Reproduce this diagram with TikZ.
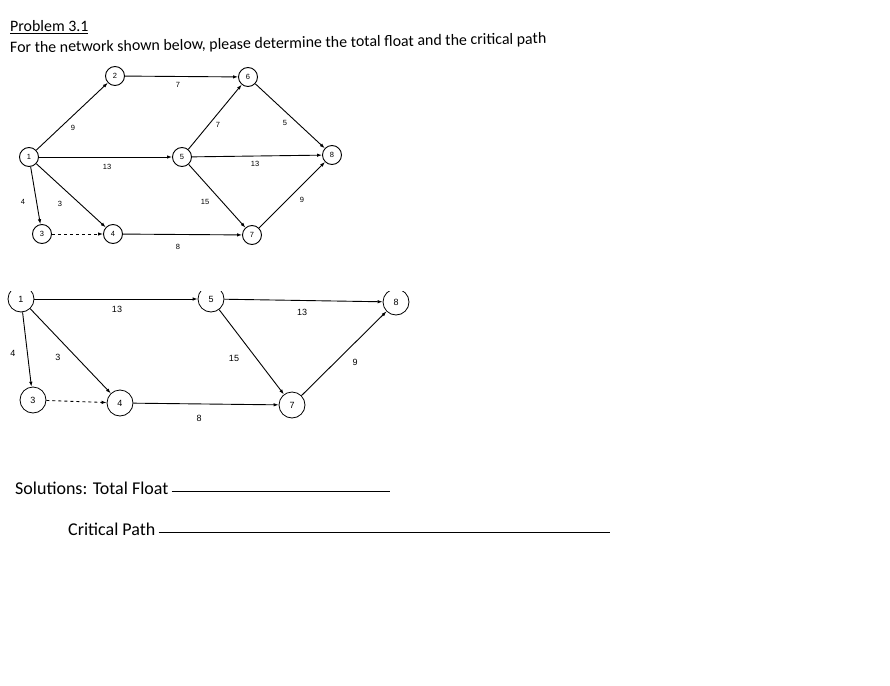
\documentclass[tikz,border=0pt]{standalone}
\usepackage{fontspec}
\setmainfont{Carlito}
\newfontfamily\digitfont{Liberation Sans}
\usetikzlibrary{arrows.meta}
\tikzset{
	evt/.style={circle, draw, line width=0.9pt, minimum size=19pt, inner sep=0pt, font=\digitfont\fontsize{7.5}{8}\selectfont},
	bigevt/.style={circle, draw, line width=0.8pt, minimum size=26pt, inner sep=0pt, font=\digitfont\fontsize{9}{10}\selectfont},
	act/.style={line width=0.9pt, -{Latex[length=5pt,width=3.5pt]}},
	dummy/.style={act, dashed},
	dur/.style={font=\digitfont\fontsize{7.5}{8}\selectfont},
	bigdur/.style={font=\digitfont\fontsize{9}{10}\selectfont},
	head/.style={inner sep=0pt, font=\fontsize{15.9}{18}\selectfont},
	answer/.style={inner sep=0pt, font=\fontsize{18}{20}\selectfont}
}

\begin{document}
\begin{tikzpicture}[x=1pt, y=-1pt]
		%%%%% START %%%%%
		
		\useasboundingbox[fill=white] (0, 0) rectangle (890, 685);
		
		\node[head, anchor=base west] (prob) at (10, 32) {\underline{Problem 3.1}};
		\node[head, anchor=base west, rotate=1] (task) at (10, 53) {For the network shown below, please determine the total float and the critical path};
		
		% first network
		\node[evt] (a1) at (29, 157) {1};
		\node[evt] (a2) at (115, 76) {2};
		\node[evt] (a6) at (248, 77) {6};
		\node[evt] (a5) at (182, 157) {5};
		\node[evt] (a8) at (332, 155) {8};
		\node[evt] (a3) at (42, 234) {3};
		\node[evt] (a4) at (113, 234) {4};
		\node[evt] (a7) at (252, 235) {7};
		
		\draw[act] (a1) -- (a2);
		\draw[act] (a2) -- (a6);
		\draw[act] (a1) -- (a5);
		\draw[act] (a5) -- (a6);
		\draw[act] (a6) -- (a8);
		\draw[act] (a5) -- (a8);
		\draw[act] (a1) -- (a3);
		\draw[act] (a1) -- (a4);
		\draw[dummy] (a3) -- (a4);
		\draw[act] (a4) -- (a7);
		\draw[act] (a5) -- (a7);
		\draw[act] (a7) -- (a8);
		
		\node[dur] (d26) at (178, 85) {7};
		\node[dur] (d12) at (73, 128) {9};
		\node[dur] (d56) at (218, 125) {7};
		\node[dur] (d68) at (285, 123) {5};
		\node[dur] (d15) at (107, 167) {13};
		\node[dur] (d58) at (255, 164) {13};
		\node[dur] (d13) at (23, 202) {4};
		\node[dur] (d14) at (60, 204) {3};
		\node[dur] (d57) at (205, 202) {15};
		\node[dur] (d78) at (302, 200) {9};
		\node[dur] (d47) at (178, 247) {8};
		
		% second network, top cut off
		\begin{scope}
			\clip (0, 291) rectangle (890, 460);
			\node[bigevt] (b1) at (21, 299) {1};
			\node[bigevt] (b5) at (211, 299) {5};
			\node[bigevt] (b8) at (396, 302) {8};
			\node[bigevt] (b3) at (33, 400) {3};
			\node[bigevt] (b4) at (120, 403) {4};
			\node[bigevt] (b7) at (292, 405) {7};
			
			\draw[act] (b1) -- (b5);
			\draw[act] (b5) -- (b8);
			\draw[act] (b1) -- (b3);
			\draw[act] (b1) -- (b4);
			\draw[dummy] (b3) -- (b4);
			\draw[act] (b4) -- (b7);
			\draw[act] (b5) -- (b7);
			\draw[act] (b7) -- (b8);
		\end{scope}
		
		\node[bigdur] (e15) at (117, 309) {13};
		\node[bigdur] (e58) at (302, 312) {13};
		\node[bigdur] (e13) at (13, 353) {4};
		\node[bigdur] (e14) at (58, 357) {3};
		\node[bigdur] (e57) at (234, 358) {15};
		\node[bigdur] (e78) at (355, 362) {9};
		\node[bigdur] (e47) at (199, 418) {8};
		
		% answer lines
		\node[answer, anchor=base west] (tf) at (15, 494) {Solutions: Total Float};
		\coordinate (tfend) at (390, 491);
		\draw[line width=0.8pt] (tf.base east) ++(3, -3) -- (tfend);
		
		\node[answer, anchor=base west] (cp) at (68, 535) {Critical Path};
		\coordinate (cpend) at (610, 532);
		\draw[line width=0.8pt] (cp.base east) ++(3, -3) -- (cpend);
		
		%%%%% END %%%%%
	\end{tikzpicture}
\end{document}
